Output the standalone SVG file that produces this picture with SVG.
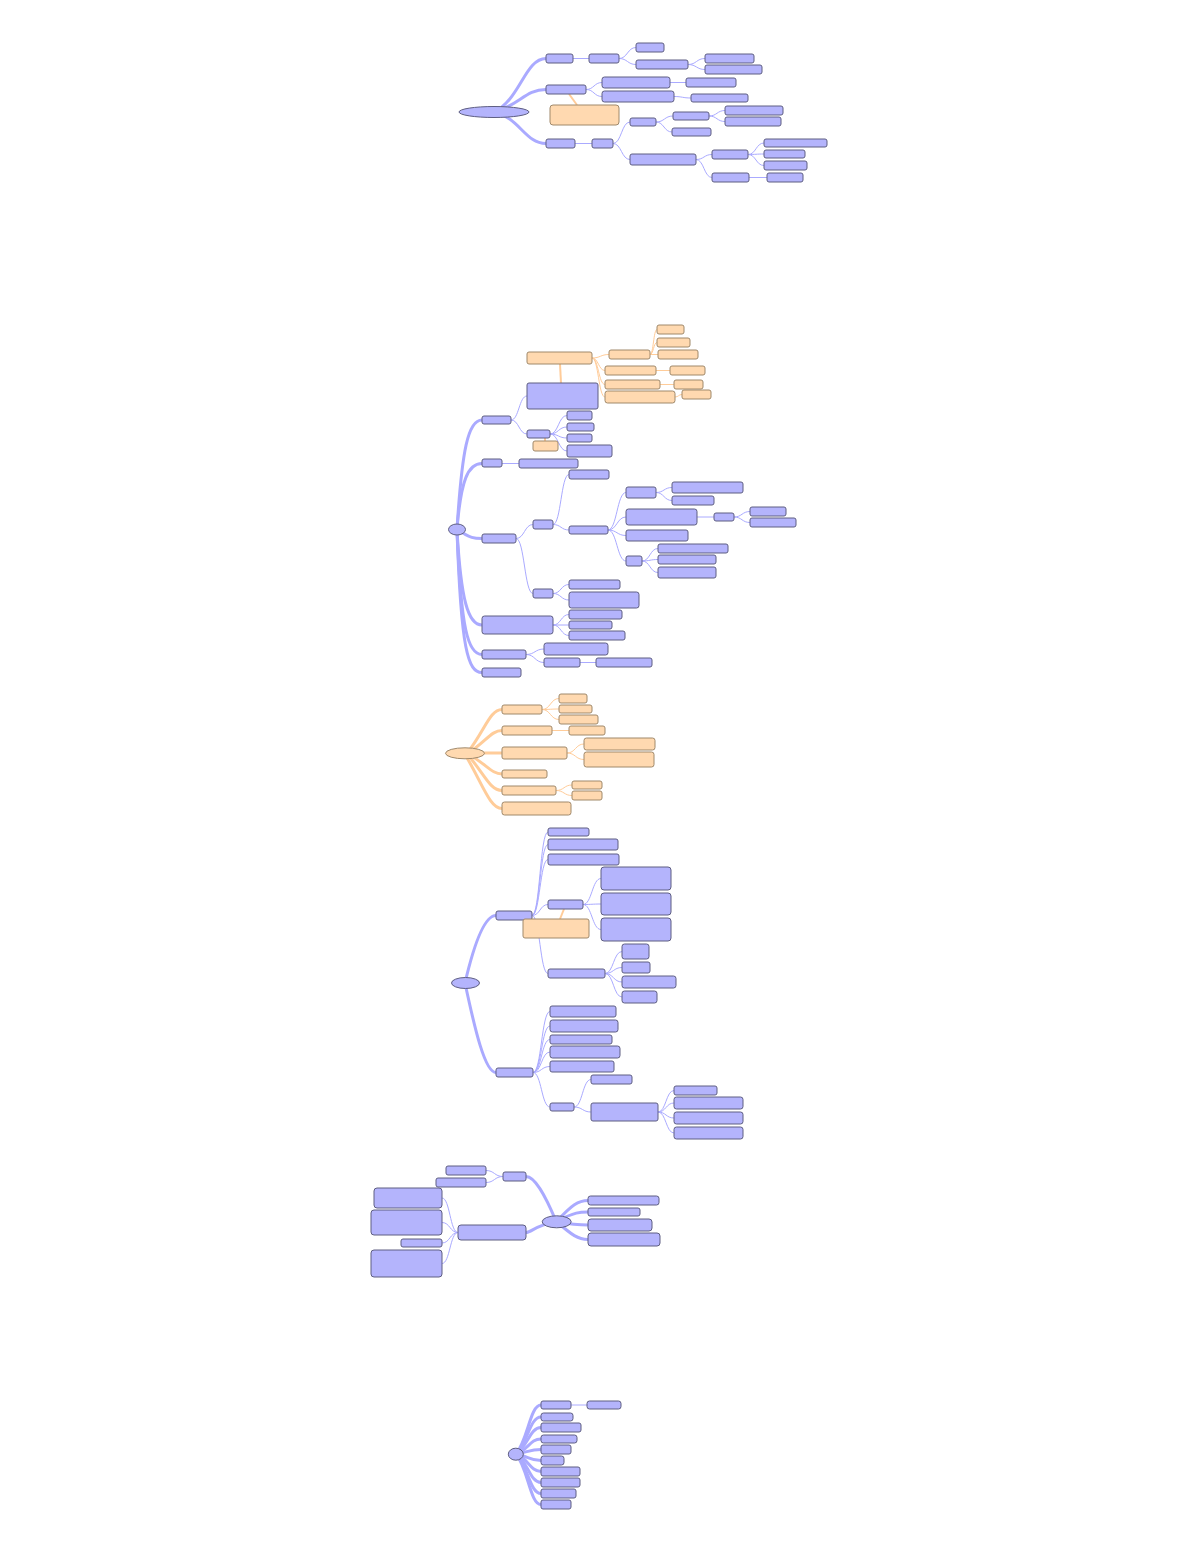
<svg xmlns="http://www.w3.org/2000/svg" width="1200" height="1553" viewBox="0 0 1200 1553">
<style>
.n{fill:#b4b4fc;stroke:#5e5e82;stroke-width:1}
.o{fill:#ffd9b0;stroke:#a0896b;stroke-width:1}
.c{fill:none;stroke:#aaaaff;stroke-width:1}
.ct{fill:none;stroke:#aaaaff;stroke-width:3;stroke-linecap:round}
.oc{fill:none;stroke:#ffcc99;stroke-width:1}
.oct{fill:none;stroke:#ffcc99;stroke-width:3;stroke-linecap:round}
.ob{fill:none;stroke:#ffcc99;stroke-width:2}
</style>
<rect width="1200" height="1553" fill="#ffffff"/>
<g id="connectors">
<path class="ct" d="M494,112 C520,100 525,58.5 546,58.5"/>
<path class="ct" d="M494,112 C520,105 525,89.5 546,89.5"/>
<path class="ct" d="M494,112 C520,118 525,143.5 546,143.5"/>
<path class="c" d="M573,58.5 L589,58.5"/>
<path class="c" d="M619,58.5 C627.5,58.5 627.5,47.5 636,47.5"/>
<path class="c" d="M619,58.5 C627.5,58.5 627.5,64.5 636,64.5"/>
<path class="c" d="M688,64.5 C696.5,64.5 696.5,58.5 705,58.5"/>
<path class="c" d="M688,64.5 C696.5,64.5 696.5,69.5 705,69.5"/>
<path class="c" d="M586,89.5 C594,89.5 594,82.5 602,82.5"/>
<path class="c" d="M586,89.5 C594,89.5 594,96.5 602,96.5"/>
<path class="c" d="M670,82.5 L686,82.5"/>
<path class="c" d="M674,96.5 C682.5,96.5 682.5,98 691,98"/>
<path class="ob" d="M569,94 L577,105"/>
<path class="c" d="M575,143.5 L592,143.5"/>
<path class="c" d="M613,143.5 C621.5,143.5 621.5,122 630,122"/>
<path class="c" d="M613,143.5 C621.5,143.5 621.5,159.5 630,159.5"/>
<path class="c" d="M656,122 C664.5,122 664.5,116 673,116"/>
<path class="c" d="M656,122 C664,122 664,132 672,132"/>
<path class="c" d="M709,116 C717,116 717,110.5 725,110.5"/>
<path class="c" d="M709,116 C717,116 717,121.5 725,121.5"/>
<path class="c" d="M696,159.5 C704,159.5 704,154.5 712,154.5"/>
<path class="c" d="M696,159.5 C704,159.5 704,177.5 712,177.5"/>
<path class="c" d="M748,154.5 C756,154.5 756,143 764,143"/>
<path class="c" d="M748,154.5 C756,154.5 756,154 764,154"/>
<path class="c" d="M748,154.5 C756,154.5 756,165.5 764,165.5"/>
<path class="c" d="M749,177.5 L767,177.5"/>
<path class="ct" d="M457,529 C462,450 468,420 482,420"/>
<path class="ct" d="M457,529 C461,480 468,463.5 482,463.5"/>
<path class="ct" d="M457,529 C470,538.5 475,538.5 482,538.5"/>
<path class="ct" d="M457,530 C461,600 468,625 482,625"/>
<path class="ct" d="M457,530 C461,630 468,654.5 482,654.5"/>
<path class="ct" d="M457,530 C461,650 468,672.5 482,672.5"/>
<path class="c" d="M511,420 C519,420 519,396 527,396"/>
<path class="c" d="M511,420 C519,420 519,434 527,434"/>
<path class="c" d="M550,434 C558.5,434 558.5,415.5 567,415.5"/>
<path class="c" d="M550,434 C558.5,434 558.5,427 567,427"/>
<path class="c" d="M550,434 C558.5,434 558.5,438 567,438"/>
<path class="c" d="M550,434 C558.5,434 558.5,451 567,451"/>
<path class="ob" d="M545,438 L545,441"/>
<path class="ob" d="M560,364 L561,383"/>
<path class="oc" d="M592,358 C600.5,358 600.5,354.5 609,354.5"/>
<path class="oc" d="M592,358 C598.5,358 598.5,370.5 605,370.5"/>
<path class="oc" d="M592,358 C598.5,358 598.5,384.5 605,384.5"/>
<path class="oc" d="M592,358 C598.5,358 598.5,397 605,397"/>
<path class="oc" d="M650,354.5 C653.5,354.5 653.5,329.5 657,329.5"/>
<path class="oc" d="M650,354.5 C653.5,354.5 653.5,342.5 657,342.5"/>
<path class="oc" d="M650,354.5 L658,354.5"/>
<path class="oc" d="M656,370.5 L670,370.5"/>
<path class="oc" d="M660,384.5 L674,384.5"/>
<path class="oc" d="M675,397 C678.5,397 678.5,394.5 682,394.5"/>
<path class="c" d="M502,463.5 L519,463.5"/>
<path class="c" d="M516,538.5 C524.5,538.5 524.5,524.5 533,524.5"/>
<path class="c" d="M516,538.5 C524.5,538.5 524.5,593.5 533,593.5"/>
<path class="c" d="M553,524.5 C561,524.5 561,474.5 569,474.5"/>
<path class="c" d="M553,524.5 C561,524.5 561,530 569,530"/>
<path class="c" d="M608,530 C617,530 617,492.5 626,492.5"/>
<path class="c" d="M608,530 C617,530 617,517 626,517"/>
<path class="c" d="M608,530 C617,530 617,535.5 626,535.5"/>
<path class="c" d="M608,530 C617,530 617,561 626,561"/>
<path class="c" d="M656,492.5 C664,492.5 664,487.5 672,487.5"/>
<path class="c" d="M656,492.5 C664,492.5 664,500.5 672,500.5"/>
<path class="c" d="M697,517 L714,517"/>
<path class="c" d="M734,517 C742,517 742,511.5 750,511.5"/>
<path class="c" d="M734,517 C742,517 742,522.5 750,522.5"/>
<path class="c" d="M642,561 C650,561 650,548.5 658,548.5"/>
<path class="c" d="M642,561 C650,561 650,559.5 658,559.5"/>
<path class="c" d="M642,561 C650,561 650,572.5 658,572.5"/>
<path class="c" d="M553,593.5 C561,593.5 561,584.5 569,584.5"/>
<path class="c" d="M553,593.5 C561,593.5 561,600 569,600"/>
<path class="c" d="M553,625 C561,625 561,614.5 569,614.5"/>
<path class="c" d="M553,625 L569,625"/>
<path class="c" d="M553,625 C561,625 561,635.5 569,635.5"/>
<path class="c" d="M526,654.5 C535,654.5 535,649 544,649"/>
<path class="c" d="M526,654.5 C535,654.5 535,662.5 544,662.5"/>
<path class="c" d="M580,662.5 L596,662.5"/>
<path class="oct" d="M468,752 C485,730 490,709.5 502,709.5"/>
<path class="oct" d="M470,752 C487,740 492,730.5 502,730.5"/>
<path class="oct" d="M480,753 L502,753"/>
<path class="oct" d="M470,755 C487,765 492,774 502,774"/>
<path class="oct" d="M468,755 C485,775 490,790.5 502,790.5"/>
<path class="oct" d="M466,756 C483,785 490,808.5 502,808.5"/>
<path class="oc" d="M542,709.5 C550.5,709.5 550.5,698.5 559,698.5"/>
<path class="oc" d="M542,709.5 C550.5,709.5 550.5,709 559,709"/>
<path class="oc" d="M542,709.5 C550.5,709.5 550.5,719.5 559,719.5"/>
<path class="oc" d="M552,730.5 L569,730.5"/>
<path class="oc" d="M567,753 C575.5,753 575.5,744 584,744"/>
<path class="oc" d="M567,753 C575.5,753 575.5,759.5 584,759.5"/>
<path class="oc" d="M556,790.5 C564,790.5 564,785 572,785"/>
<path class="oc" d="M556,790.5 C564,790.5 564,795.5 572,795.5"/>
<path class="ct" d="M465,983 C475,940 485,915.5 496,915.5"/>
<path class="ct" d="M465,983 C475,1030 485,1072.5 496,1072.5"/>
<path class="c" d="M532,915.5 C540,915.5 540,832 548,832"/>
<path class="c" d="M532,915.5 C540,915.5 540,844.5 548,844.5"/>
<path class="c" d="M532,915.5 C540,915.5 540,859.5 548,859.5"/>
<path class="c" d="M532,915.5 C540,915.5 540,904.5 548,904.5"/>
<path class="c" d="M532,915.5 C540,915.5 540,973.5 548,973.5"/>
<path class="c" d="M583,904.5 C592,904.5 592,878.5 601,878.5"/>
<path class="c" d="M583,904.5 C592,904.5 592,904 601,904"/>
<path class="c" d="M583,904.5 C592,904.5 592,929.5 601,929.5"/>
<path class="ob" d="M564,909 L560,919"/>
<path class="c" d="M605,973.5 C613.5,973.5 613.5,951.5 622,951.5"/>
<path class="c" d="M605,973.5 C613.5,973.5 613.5,967.5 622,967.5"/>
<path class="c" d="M605,973.5 C613.5,973.5 613.5,982 622,982"/>
<path class="c" d="M605,973.5 C613.5,973.5 613.5,997 622,997"/>
<path class="c" d="M533,1072.5 C541.5,1072.5 541.5,1011.5 550,1011.5"/>
<path class="c" d="M533,1072.5 C541.5,1072.5 541.5,1026 550,1026"/>
<path class="c" d="M533,1072.5 C541.5,1072.5 541.5,1039.5 550,1039.5"/>
<path class="c" d="M533,1072.5 C541.5,1072.5 541.5,1052 550,1052"/>
<path class="c" d="M533,1072.5 C541.5,1072.5 541.5,1066.5 550,1066.5"/>
<path class="c" d="M533,1072.5 C541.5,1072.5 541.5,1107 550,1107"/>
<path class="c" d="M574,1107 C582.5,1107 582.5,1079.5 591,1079.5"/>
<path class="c" d="M574,1107 C582.5,1107 582.5,1112 591,1112"/>
<path class="c" d="M658,1112 C666,1112 666,1090.5 674,1090.5"/>
<path class="c" d="M658,1112 C666,1112 666,1103 674,1103"/>
<path class="c" d="M658,1112 C666,1112 666,1118 674,1118"/>
<path class="c" d="M658,1112 C666,1112 666,1133 674,1133"/>
<path class="ct" d="M556,1221 C545,1195 535,1176.5 526,1176.5"/>
<path class="ct" d="M556,1222 C535,1225 532,1232.5 526,1232.5"/>
<path class="ct" d="M557,1221 C572,1205 578,1200.5 588,1200.5"/>
<path class="ct" d="M557,1221 C575,1212 580,1212 588,1212"/>
<path class="ct" d="M557,1222 C575,1225 580,1225 588,1225"/>
<path class="ct" d="M557,1222 C572,1235 578,1239.5 588,1239.5"/>
<path class="c" d="M503,1176.5 C494.5,1176.5 494.5,1170.5 486,1170.5"/>
<path class="c" d="M503,1176.5 C494.5,1176.5 494.5,1182.5 486,1182.5"/>
<path class="c" d="M458,1232.5 C450,1232.5 450,1198 442,1198"/>
<path class="c" d="M458,1232.5 C450,1232.5 450,1222.5 442,1222.5"/>
<path class="c" d="M458,1232.5 C450,1232.5 450,1243 442,1243"/>
<path class="c" d="M458,1232.5 C450,1232.5 450,1263.5 442,1263.5"/>
<path class="ct" d="M516,1454 C528,1440 530,1405 541,1405"/>
<path class="ct" d="M516,1454 C528,1442 530,1417 541,1417"/>
<path class="ct" d="M516,1454 C528,1446 530,1427.5 541,1427.5"/>
<path class="ct" d="M516,1454 C528,1450 530,1439 541,1439"/>
<path class="ct" d="M516,1454 C528,1452 530,1449.5 541,1449.5"/>
<path class="ct" d="M516,1454 C528,1456 530,1460.5 541,1460.5"/>
<path class="ct" d="M516,1454 C528,1458 530,1471.5 541,1471.5"/>
<path class="ct" d="M516,1454 C528,1462 530,1482.5 541,1482.5"/>
<path class="ct" d="M516,1454 C528,1466 530,1493.5 541,1493.5"/>
<path class="ct" d="M516,1454 C528,1468 530,1504.5 541,1504.5"/>
<path class="c" d="M571,1405 L587,1405"/>
</g>
<g id="m1-root"><ellipse class="n" cx="494" cy="112" rx="35" ry="5.5"/></g>
<g id="m1-a1"><rect class="n" x="546" y="54" width="27" height="9" rx="2"/></g>
<g id="m1-a1a"><rect class="n" x="589" y="54" width="30" height="9" rx="2"/></g>
<g id="m1-a1a1"><rect class="n" x="636" y="43" width="28" height="9" rx="2"/></g>
<g id="m1-a1a2"><rect class="n" x="636" y="60" width="52" height="9" rx="2"/></g>
<g id="m1-a1a2a"><rect class="n" x="705" y="54" width="49" height="9" rx="2"/></g>
<g id="m1-a1a2b"><rect class="n" x="705" y="65" width="57" height="9" rx="2"/></g>
<g id="m1-a2"><rect class="n" x="546" y="85" width="40" height="9" rx="2"/></g>
<g id="m1-a2a"><rect class="n" x="602" y="77" width="68" height="11" rx="2.5"/></g>
<g id="m1-a2a1"><rect class="n" x="686" y="78" width="50" height="9" rx="2"/></g>
<g id="m1-a2b"><rect class="n" x="602" y="91" width="72" height="11" rx="2.5"/></g>
<g id="m1-a2b1"><rect class="n" x="691" y="94" width="57" height="8" rx="2"/></g>
<g id="m1-o1"><rect class="o" x="550" y="105" width="69" height="20" rx="3"/></g>
<g id="m1-a3"><rect class="n" x="546" y="139" width="29" height="9" rx="2"/></g>
<g id="m1-a3a"><rect class="n" x="592" y="139" width="21" height="9" rx="2"/></g>
<g id="m1-a3a1"><rect class="n" x="630" y="118" width="26" height="8" rx="2"/></g>
<g id="m1-a3a1a"><rect class="n" x="673" y="112" width="36" height="8" rx="2"/></g>
<g id="m1-a3a1a1"><rect class="n" x="725" y="106" width="58" height="9" rx="2"/></g>
<g id="m1-a3a1a2"><rect class="n" x="725" y="117" width="56" height="9" rx="2"/></g>
<g id="m1-a3a1b"><rect class="n" x="672" y="128" width="39" height="8" rx="2"/></g>
<g id="m1-a3a2"><rect class="n" x="630" y="154" width="66" height="11" rx="2"/></g>
<g id="m1-a3a2a"><rect class="n" x="712" y="150" width="36" height="9" rx="2"/></g>
<g id="m1-a3a2a1"><rect class="n" x="764" y="139" width="63" height="8" rx="2"/></g>
<g id="m1-a3a2a2"><rect class="n" x="764" y="150" width="41" height="8" rx="2"/></g>
<g id="m1-a3a2a3"><rect class="n" x="764" y="161" width="43" height="9" rx="2"/></g>
<g id="m1-a3a2b"><rect class="n" x="712" y="173" width="37" height="9" rx="2"/></g>
<g id="m1-a3a2b1"><rect class="n" x="767" y="173" width="36" height="9" rx="2"/></g>
<g id="m2-root"><ellipse class="n" cx="457" cy="529.5" rx="8.5" ry="5.5"/></g>
<g id="m2-b1"><rect class="n" x="482" y="416" width="29" height="8" rx="2"/></g>
<g id="m2-big"><rect class="n" x="527" y="383" width="71" height="26" rx="2"/></g>
<g id="m2-b1b"><rect class="n" x="527" y="430" width="23" height="8" rx="2"/></g>
<g id="m2-b1b1"><rect class="n" x="567" y="411" width="25" height="9" rx="2"/></g>
<g id="m2-b1b2"><rect class="n" x="567" y="423" width="27" height="8" rx="2"/></g>
<g id="m2-b1b3"><rect class="n" x="567" y="434" width="25" height="8" rx="2"/></g>
<g id="m2-b1b4"><rect class="n" x="567" y="445" width="45" height="12" rx="2"/></g>
<g id="m2-os"><rect class="o" x="533" y="441" width="25" height="10" rx="2"/></g>
<g id="m2-ob"><rect class="o" x="527" y="352" width="65" height="12" rx="2"/></g>
<g id="m2-oa"><rect class="o" x="609" y="350" width="41" height="9" rx="2"/></g>
<g id="m2-oa1"><rect class="o" x="657" y="325" width="27" height="9" rx="2"/></g>
<g id="m2-oa2"><rect class="o" x="657" y="338" width="33" height="9" rx="2"/></g>
<g id="m2-oa3"><rect class="o" x="658" y="350" width="40" height="9" rx="2"/></g>
<g id="m2-obb"><rect class="o" x="605" y="366" width="51" height="9" rx="2"/></g>
<g id="m2-obb1"><rect class="o" x="670" y="366" width="35" height="9" rx="2"/></g>
<g id="m2-oc"><rect class="o" x="605" y="380" width="55" height="9" rx="2"/></g>
<g id="m2-oc1"><rect class="o" x="674" y="380" width="29" height="9" rx="2"/></g>
<g id="m2-od"><rect class="o" x="605" y="391" width="70" height="12" rx="2.5"/></g>
<g id="m2-od1"><rect class="o" x="682" y="390" width="29" height="9" rx="2"/></g>
<g id="m2-b2"><rect class="n" x="482" y="459" width="20" height="8" rx="2"/></g>
<g id="m2-b2a"><rect class="n" x="519" y="459" width="59" height="9" rx="2"/></g>
<g id="m2-b3"><rect class="n" x="482" y="534" width="34" height="9" rx="2"/></g>
<g id="m2-b3a"><rect class="n" x="533" y="520" width="20" height="9" rx="2"/></g>
<g id="m2-b3a1"><rect class="n" x="569" y="470" width="40" height="9" rx="2"/></g>
<g id="m2-b3a2"><rect class="n" x="569" y="526" width="39" height="8" rx="2"/></g>
<g id="m2-p1"><rect class="n" x="626" y="487" width="30" height="11" rx="2"/></g>
<g id="m2-p1a"><rect class="n" x="672" y="482" width="71" height="11" rx="2"/></g>
<g id="m2-p1b"><rect class="n" x="672" y="496" width="42" height="9" rx="2"/></g>
<g id="m2-p2"><rect class="n" x="626" y="509" width="71" height="16" rx="2.5"/></g>
<g id="m2-p2a"><rect class="n" x="714" y="513" width="20" height="8" rx="2"/></g>
<g id="m2-p2a1"><rect class="n" x="750" y="507" width="36" height="9" rx="2"/></g>
<g id="m2-p2a2"><rect class="n" x="750" y="518" width="46" height="9" rx="2"/></g>
<g id="m2-p3"><rect class="n" x="626" y="530" width="62" height="11" rx="2"/></g>
<g id="m2-p4"><rect class="n" x="626" y="556" width="16" height="10" rx="2"/></g>
<g id="m2-p4a"><rect class="n" x="658" y="544" width="70" height="9" rx="2"/></g>
<g id="m2-p4b"><rect class="n" x="658" y="555" width="58" height="9" rx="2"/></g>
<g id="m2-p4c"><rect class="n" x="658" y="567" width="58" height="11" rx="2"/></g>
<g id="m2-b3b"><rect class="n" x="533" y="589" width="20" height="9" rx="2"/></g>
<g id="m2-b3b1"><rect class="n" x="569" y="580" width="51" height="9" rx="2"/></g>
<g id="m2-b3b2"><rect class="n" x="569" y="592" width="70" height="16" rx="2.5"/></g>
<g id="m2-b4"><rect class="n" x="482" y="616" width="71" height="18" rx="2.5"/></g>
<g id="m2-b4a"><rect class="n" x="569" y="610" width="53" height="9" rx="2"/></g>
<g id="m2-b4b"><rect class="n" x="569" y="621" width="43" height="8" rx="2"/></g>
<g id="m2-b4c"><rect class="n" x="569" y="631" width="56" height="9" rx="2"/></g>
<g id="m2-b5"><rect class="n" x="482" y="650" width="44" height="9" rx="2"/></g>
<g id="m2-b5a"><rect class="n" x="544" y="643" width="64" height="12" rx="2.5"/></g>
<g id="m2-b5b"><rect class="n" x="544" y="658" width="36" height="9" rx="2"/></g>
<g id="m2-b5b1"><rect class="n" x="596" y="658" width="56" height="9" rx="2"/></g>
<g id="m2-b6"><rect class="n" x="482" y="668" width="39" height="9" rx="2"/></g>
<g id="m3-root"><ellipse class="o" cx="465" cy="753.3" rx="19.5" ry="5.5"/></g>
<g id="m3-c1"><rect class="o" x="502" y="705" width="40" height="9" rx="2"/></g>
<g id="m3-c1a"><rect class="o" x="559" y="694" width="28" height="9" rx="2"/></g>
<g id="m3-c1b"><rect class="o" x="559" y="705" width="33" height="8" rx="2"/></g>
<g id="m3-c1c"><rect class="o" x="559" y="715" width="39" height="9" rx="2"/></g>
<g id="m3-c2"><rect class="o" x="502" y="726" width="50" height="9" rx="2"/></g>
<g id="m3-c2a"><rect class="o" x="569" y="726" width="36" height="9" rx="2"/></g>
<g id="m3-c3"><rect class="o" x="502" y="747" width="65" height="12" rx="2"/></g>
<g id="m3-c3a"><rect class="o" x="584" y="738" width="71" height="12" rx="2.5"/></g>
<g id="m3-c3b"><rect class="o" x="584" y="752" width="70" height="15" rx="2.5"/></g>
<g id="m3-c4"><rect class="o" x="502" y="770" width="45" height="8" rx="2"/></g>
<g id="m3-c5"><rect class="o" x="502" y="786" width="54" height="9" rx="2"/></g>
<g id="m3-c5a"><rect class="o" x="572" y="781" width="30" height="8" rx="2"/></g>
<g id="m3-c5b"><rect class="o" x="572" y="791" width="30" height="9" rx="2"/></g>
<g id="m3-c6"><rect class="o" x="502" y="802" width="69" height="13" rx="2.5"/></g>
<g id="m4-root"><ellipse class="n" cx="465.5" cy="983" rx="14" ry="5.5"/></g>
<g id="m4-d1"><rect class="n" x="496" y="911" width="36" height="9" rx="2"/></g>
<g id="m4-d1a"><rect class="n" x="548" y="828" width="41" height="8" rx="2"/></g>
<g id="m4-d1b"><rect class="n" x="548" y="839" width="70" height="11" rx="2"/></g>
<g id="m4-d1c"><rect class="n" x="548" y="854" width="71" height="11" rx="2"/></g>
<g id="m4-d1d"><rect class="n" x="548" y="900" width="35" height="9" rx="2"/></g>
<g id="m4-d1d1"><rect class="n" x="601" y="867" width="70" height="23" rx="3"/></g>
<g id="m4-d1d2"><rect class="n" x="601" y="893" width="70" height="22" rx="3"/></g>
<g id="m4-d1d3"><rect class="n" x="601" y="918" width="70" height="23" rx="3"/></g>
<g id="m4-od"><rect class="o" x="523" y="919" width="66" height="19" rx="2"/></g>
<g id="m4-d1e"><rect class="n" x="548" y="969" width="57" height="9" rx="2"/></g>
<g id="m4-d1e1"><rect class="n" x="622" y="944" width="27" height="15" rx="2.5"/></g>
<g id="m4-d1e2"><rect class="n" x="622" y="962" width="28" height="11" rx="2"/></g>
<g id="m4-d1e3"><rect class="n" x="622" y="976" width="54" height="12" rx="2.5"/></g>
<g id="m4-d1e4"><rect class="n" x="622" y="991" width="35" height="12" rx="2.5"/></g>
<g id="m4-d2"><rect class="n" x="496" y="1068" width="37" height="9" rx="2"/></g>
<g id="m4-d2a"><rect class="n" x="550" y="1006" width="66" height="11" rx="2"/></g>
<g id="m4-d2b"><rect class="n" x="550" y="1020" width="68" height="12" rx="2.5"/></g>
<g id="m4-d2c"><rect class="n" x="550" y="1035" width="62" height="9" rx="2"/></g>
<g id="m4-d2d"><rect class="n" x="550" y="1046" width="70" height="12" rx="2.5"/></g>
<g id="m4-d2e"><rect class="n" x="550" y="1061" width="64" height="11" rx="2"/></g>
<g id="m4-d2f"><rect class="n" x="550" y="1103" width="24" height="8" rx="2"/></g>
<g id="m4-d2f1"><rect class="n" x="591" y="1075" width="41" height="9" rx="2"/></g>
<g id="m4-d2g"><rect class="n" x="591" y="1103" width="67" height="18" rx="2"/></g>
<g id="m4-d2g1"><rect class="n" x="674" y="1086" width="43" height="9" rx="2"/></g>
<g id="m4-d2g2"><rect class="n" x="674" y="1097" width="69" height="12" rx="2.5"/></g>
<g id="m4-d2g3"><rect class="n" x="674" y="1112" width="69" height="12" rx="2.5"/></g>
<g id="m4-d2g4"><rect class="n" x="674" y="1127" width="69" height="12" rx="2.5"/></g>
<g id="m5-root"><ellipse class="n" cx="556.7" cy="1221.8" rx="14.5" ry="6"/></g>
<g id="m5-e1"><rect class="n" x="503" y="1172" width="23" height="9" rx="2"/></g>
<g id="m5-e1a"><rect class="n" x="446" y="1166" width="40" height="9" rx="2"/></g>
<g id="m5-e1b"><rect class="n" x="436" y="1178" width="50" height="9" rx="2"/></g>
<g id="m5-e2"><rect class="n" x="458" y="1225" width="68" height="15" rx="3"/></g>
<g id="m5-e2a"><rect class="n" x="374" y="1188" width="68" height="20" rx="3"/></g>
<g id="m5-e2b"><rect class="n" x="371" y="1210" width="71" height="25" rx="3"/></g>
<g id="m5-e2c"><rect class="n" x="401" y="1239" width="41" height="8" rx="2"/></g>
<g id="m5-e2d"><rect class="n" x="371" y="1250" width="71" height="27" rx="3"/></g>
<g id="m5-r1"><rect class="n" x="588" y="1196" width="71" height="9" rx="2.5"/></g>
<g id="m5-r2"><rect class="n" x="588" y="1208" width="52" height="8" rx="2"/></g>
<g id="m5-r3"><rect class="n" x="588" y="1219" width="64" height="12" rx="3"/></g>
<g id="m5-r4"><rect class="n" x="588" y="1233" width="72" height="13" rx="3"/></g>
<g id="m6-root"><ellipse class="n" cx="515.8" cy="1454.2" rx="7.5" ry="6"/></g>
<g id="m6-c1"><rect class="n" x="541" y="1401" width="30" height="8" rx="2"/></g>
<g id="m6-c1a"><rect class="n" x="587" y="1401" width="34" height="8" rx="2.5"/></g>
<g id="m6-c2"><rect class="n" x="541" y="1413" width="32" height="8" rx="2.5"/></g>
<g id="m6-c3"><rect class="n" x="541" y="1423" width="40" height="9" rx="2"/></g>
<g id="m6-c4"><rect class="n" x="541" y="1435" width="36" height="8" rx="2.5"/></g>
<g id="m6-c5"><rect class="n" x="541" y="1445" width="30" height="9" rx="2"/></g>
<g id="m6-c6"><rect class="n" x="541" y="1456" width="23" height="9" rx="2.5"/></g>
<g id="m6-c7"><rect class="n" x="541" y="1467" width="39" height="9" rx="2"/></g>
<g id="m6-c8"><rect class="n" x="541" y="1478" width="39" height="9" rx="2"/></g>
<g id="m6-c9"><rect class="n" x="541" y="1489" width="35" height="9" rx="2"/></g>
<g id="m6-c10"><rect class="n" x="541" y="1500" width="30" height="9" rx="2"/></g>
</svg>
